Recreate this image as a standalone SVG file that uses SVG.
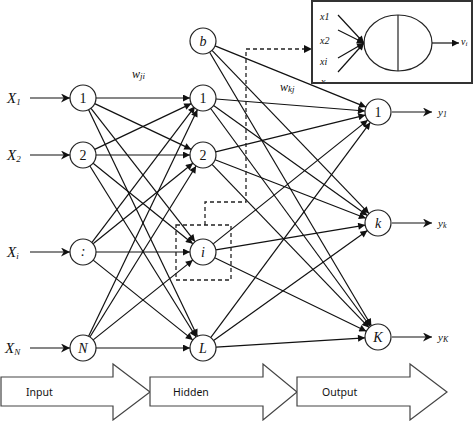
<svg xmlns="http://www.w3.org/2000/svg" width="474" height="421" viewBox="0 0 474 421">
<style>
.conn line{stroke:#111;stroke-width:1.2;fill:none}
.node circle{fill:#fff;stroke:#222;stroke-width:1.2}
.nl{font-family:"Liberation Serif",serif;font-size:14px;text-anchor:middle;fill:#111}
.it{font-style:italic}
.lab{font-family:"Liberation Serif",serif;font-style:italic;fill:#111}
.thick{stroke:#111;stroke-width:3;fill:none}
.dash{stroke:#222;stroke-width:1.3;fill:none;stroke-dasharray:4 3}
.band{fill:#fff;stroke:#444;stroke-width:1.2}
.bl{font-family:"Noto Sans",sans-serif;font-size:10.5px;fill:#111}
</style>
<defs>
<marker id="ah" viewBox="0 0 10 10" refX="10" refY="5" markerWidth="10" markerHeight="7" markerUnits="userSpaceOnUse" orient="auto"><path d="M0,0 L10,5 L0,10 z" fill="#111"/></marker>
<marker id="big" viewBox="0 0 10 10" refX="10" refY="5" markerWidth="12" markerHeight="9" markerUnits="userSpaceOnUse" orient="auto"><path d="M0,0 L10,5 L0,10 L3,5 z" fill="#111"/></marker>
<clipPath id="insetclip"><rect x="312" y="0" width="161" height="83"/></clipPath>
</defs>
<rect width="474" height="421" fill="#fff"/>

<g id="connectors" class="conn">
<line x1="96" y1="98" x2="190" y2="98" marker-end="url(#ah)"/>
<line x1="94.7" y1="103.6" x2="191.3" y2="149.4" marker-end="url(#ah)"/>
<line x1="91" y1="108.3" x2="195" y2="241.7" marker-end="url(#ah)"/>
<line x1="88.6" y1="109.7" x2="197.4" y2="336.3" marker-end="url(#ah)"/>
<line x1="94.7" y1="149.4" x2="191.3" y2="103.6" marker-end="url(#ah)"/>
<line x1="96" y1="155" x2="190" y2="155" marker-end="url(#ah)"/>
<line x1="93.1" y1="163.2" x2="192.9" y2="243.8" marker-end="url(#ah)"/>
<line x1="89.9" y1="166" x2="196.1" y2="337" marker-end="url(#ah)"/>
<line x1="91" y1="243.7" x2="195" y2="106.3" marker-end="url(#ah)"/>
<line x1="93.1" y1="243.8" x2="192.9" y2="163.2" marker-end="url(#ah)"/>
<line x1="96" y1="252" x2="190" y2="252" marker-end="url(#ah)"/>
<line x1="93.2" y1="260.1" x2="192.8" y2="339.9" marker-end="url(#ah)"/>
<line x1="88.6" y1="336.3" x2="197.4" y2="109.7" marker-end="url(#ah)"/>
<line x1="89.9" y1="337" x2="196.1" y2="166" marker-end="url(#ah)"/>
<line x1="93.2" y1="339.9" x2="192.8" y2="260.1" marker-end="url(#ah)"/>
<line x1="96" y1="348" x2="190" y2="348" marker-end="url(#ah)"/>

<line x1="215" y1="45.9" x2="366" y2="107.1" marker-end="url(#ah)"/>
<line x1="212" y1="50.4" x2="369" y2="213.6" marker-end="url(#ah)"/>
<line x1="209.6" y1="52.2" x2="371.4" y2="325.8" marker-end="url(#ah)"/>
<line x1="216" y1="99" x2="365" y2="111" marker-end="url(#ah)"/>
<line x1="213.6" y1="105.6" x2="367.4" y2="215.4" marker-end="url(#ah)"/>
<line x1="210.7" y1="108.5" x2="370.3" y2="326.5" marker-end="url(#ah)"/>
<line x1="215.6" y1="151.9" x2="365.4" y2="115.1" marker-end="url(#ah)"/>
<line x1="215.1" y1="159.7" x2="365.9" y2="218.3" marker-end="url(#ah)"/>
<line x1="212" y1="164.4" x2="369" y2="327.6" marker-end="url(#ah)"/>
<line x1="213.2" y1="243.9" x2="367.8" y2="120.1" marker-end="url(#ah)"/>
<line x1="215.8" y1="249.9" x2="365.2" y2="225.1" marker-end="url(#ah)"/>
<line x1="214.7" y1="257.7" x2="366.3" y2="331.3" marker-end="url(#ah)"/>
<line x1="210.7" y1="337.6" x2="370.3" y2="122.4" marker-end="url(#ah)"/>
<line x1="213.6" y1="340.4" x2="367.4" y2="230.6" marker-end="url(#ah)"/>
<line x1="216" y1="347.2" x2="365" y2="337.8" marker-end="url(#ah)"/>

<line class="thick" x1="30" y1="98" x2="70" y2="98" marker-end="url(#big)"/>
<line class="thick" x1="30" y1="155" x2="70" y2="155" marker-end="url(#big)"/>
<line class="thick" x1="30" y1="252" x2="70" y2="252" marker-end="url(#big)"/>
<line class="thick" x1="30" y1="348" x2="70" y2="348" marker-end="url(#big)"/>
<line class="thick" x1="392" y1="112" x2="432" y2="112" marker-end="url(#big)"/>
<line class="thick" x1="392" y1="223" x2="432" y2="223" marker-end="url(#big)"/>
<line class="thick" x1="392" y1="337" x2="432" y2="337" marker-end="url(#big)"/>

<path class="dash" d="M205,225 V202 H246 V49 H306"/>
<path d="M304,45 L312,49 L304,53 z" fill="#111"/>
<rect class="dash" x="176" y="225" width="55" height="55"/>
</g>

<g id="input-labels" class="lab">
<text x="7" y="103" font-size="15">X<tspan font-size="9" dy="2">1</tspan></text>
<text x="7" y="160" font-size="15">X<tspan font-size="9" dy="2">2</tspan></text>
<text x="7" y="257" font-size="15">X<tspan font-size="9" dy="2">i</tspan></text>
<text x="5" y="353" font-size="15">X<tspan font-size="9" dy="2">N</tspan></text>
</g>

<g id="in1" class="node"><circle cx="83" cy="98" r="13"/><text class="nl" x="83" y="103">1</text></g>
<g id="in2" class="node"><circle cx="83" cy="155" r="13"/><text class="nl" x="83" y="160">2</text></g>
<g id="ini" class="node"><circle cx="83" cy="252" r="13"/><text class="nl it" x="83" y="256">:</text></g>
<g id="inN" class="node"><circle cx="83" cy="348" r="13"/><text class="nl it" x="83" y="353">N</text></g>

<g id="hb" class="node"><circle cx="203" cy="41" r="13"/><text class="nl it" x="203" y="46">b</text></g>
<g id="h1" class="node"><circle cx="203" cy="98" r="13"/><text class="nl" x="203" y="103">1</text></g>
<g id="h2" class="node"><circle cx="203" cy="155" r="13"/><text class="nl" x="203" y="160">2</text></g>
<g id="hi" class="node"><circle cx="203" cy="252" r="13"/><text class="nl it" x="203" y="257">i</text></g>
<g id="hL" class="node"><circle cx="203" cy="348" r="13"/><text class="nl it" x="203" y="353">L</text></g>

<g id="o1" class="node"><circle cx="378" cy="112" r="13"/><text class="nl" x="378" y="117">1</text></g>
<g id="ok" class="node"><circle cx="378" cy="223" r="13"/><text class="nl it" x="378" y="228">k</text></g>
<g id="oK" class="node"><circle cx="378" cy="337" r="13"/><text class="nl it" x="378" y="342">K</text></g>

<g id="output-labels" class="lab">
<text x="438" y="116" font-size="11">y<tspan font-size="8" dy="1">1</tspan></text>
<text x="438" y="227" font-size="11">y<tspan font-size="8" dy="1">k</tspan></text>
<text x="438" y="341" font-size="11">y<tspan font-size="8" dy="1">K</tspan></text>
</g>

<g id="weights" class="lab">
<text x="132" y="78" font-size="12">w<tspan font-size="9" dy="1">ji</tspan></text>
<text x="280" y="91" font-size="12">w<tspan font-size="9" dy="1">kj</tspan></text>
</g>

<g id="inset">
<rect x="312" y="1" width="160" height="82" fill="#fff" stroke="#333" stroke-width="2"/>
<g clip-path="url(#insetclip)">
<g class="conn">
<line x1="338" y1="15" x2="364" y2="43" marker-end="url(#ah)"/>
<line x1="338" y1="30" x2="364" y2="43" marker-end="url(#ah)"/>
<line x1="338" y1="58" x2="364" y2="43" marker-end="url(#ah)"/>
<line x1="338" y1="72" x2="364" y2="43" marker-end="url(#ah)"/>
<line x1="432" y1="43" x2="459" y2="43" marker-end="url(#ah)"/>
</g>
<ellipse cx="398" cy="43" rx="34" ry="28" fill="none" stroke="#222" stroke-width="1.2"/>
<line x1="398" y1="15" x2="398" y2="71" stroke="#222" stroke-width="1.2"/>
<g class="lab" font-size="10">
<text x="320" y="20">x1</text>
<text x="320" y="44">x2</text>
<text x="320" y="65">xi</text>
<text x="321" y="85">x</text>
<text x="461" y="45">v<tspan font-size="7" dy="1">i</tspan></text>
</g>
</g>
<rect x="312" y="1" width="160" height="82" fill="none" stroke="#333" stroke-width="2"/>
</g>

<g id="stage-arrows">
<g id="input-stage"><polygon class="band" points="1,377 113,377 113,364 150,392 113,420 113,406 1,406"/><text class="bl" x="26" y="396">Input</text></g>
<g id="hidden-stage"><polygon class="band" points="150,377 263,377 263,364 297,392 263,420 263,406 150,406"/><text class="bl" x="173" y="396">Hidden</text></g>
<g id="output-stage"><polygon class="band" points="297,377 410,377 410,364 447,392 410,420 410,406 297,406"/><text class="bl" x="322" y="396">Output</text></g>
</g>
</svg>
